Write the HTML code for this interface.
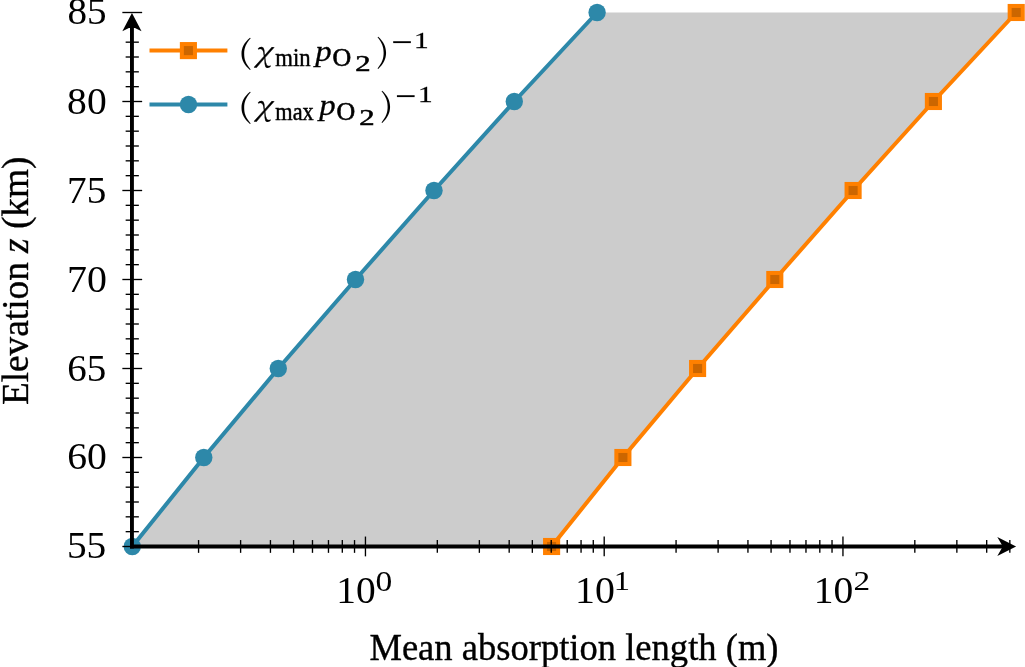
<!DOCTYPE html>
<html><head><meta charset="utf-8"><style>
html,body{margin:0;padding:0;background:#fff;overflow:hidden;}
svg{display:block;}
text{font-family:"Liberation Serif",serif;font-size:100px;fill:#000;}
.i{font-style:italic;}
.nr{font-family:"Noto Serif CJK SC",serif;}
.ni{font-family:"Noto Serif CJK SC",serif;font-style:italic;}
text{stroke:#000;stroke-width:0;}
</style></head><body>
<svg width="1025" height="667" viewBox="0 0 1025 667">
<polygon points="132.30,546.50 203.80,457.50 278.30,368.50 355.50,279.50 434.00,190.50 514.30,101.50 597.10,12.50 1016.20,12.50 933.40,101.50 853.10,190.50 774.80,279.50 697.60,368.50 622.90,457.50 551.60,546.50" fill="#cccccc"/>
<polyline points="551.60,546.50 622.90,457.50 697.60,368.50 774.80,279.50 853.10,190.50 933.40,101.50 1016.20,12.50" fill="none" stroke="#ff8000" stroke-width="4.0" stroke-linejoin="round"/>
<rect x="545.05" y="539.95" width="13.1" height="13.1" fill="#cc6600" stroke="#ff8000" stroke-width="4.0"/>
<rect x="616.35" y="450.95" width="13.1" height="13.1" fill="#cc6600" stroke="#ff8000" stroke-width="4.0"/>
<rect x="691.05" y="361.95" width="13.1" height="13.1" fill="#cc6600" stroke="#ff8000" stroke-width="4.0"/>
<rect x="768.25" y="272.95" width="13.1" height="13.1" fill="#cc6600" stroke="#ff8000" stroke-width="4.0"/>
<rect x="846.55" y="183.95" width="13.1" height="13.1" fill="#cc6600" stroke="#ff8000" stroke-width="4.0"/>
<rect x="926.85" y="94.95" width="13.1" height="13.1" fill="#cc6600" stroke="#ff8000" stroke-width="4.0"/>
<rect x="1009.65" y="5.95" width="13.1" height="13.1" fill="#cc6600" stroke="#ff8000" stroke-width="4.0"/>
<polyline points="132.30,546.50 203.80,457.50 278.30,368.50 355.50,279.50 434.00,190.50 514.30,101.50 597.10,12.50" fill="none" stroke="#2d88a9" stroke-width="4.0" stroke-linejoin="round"/>
<circle cx="132.30" cy="546.50" r="8.7" fill="#2d88a9"/>
<circle cx="203.80" cy="457.50" r="8.7" fill="#2d88a9"/>
<circle cx="278.30" cy="368.50" r="8.7" fill="#2d88a9"/>
<circle cx="355.50" cy="279.50" r="8.7" fill="#2d88a9"/>
<circle cx="434.00" cy="190.50" r="8.7" fill="#2d88a9"/>
<circle cx="514.30" cy="101.50" r="8.7" fill="#2d88a9"/>
<circle cx="597.10" cy="12.50" r="8.7" fill="#2d88a9"/>
<g stroke="#000" stroke-width="1.35"><line x1="122.35" y1="546.50" x2="142.15" y2="546.50"/><line x1="125.65" y1="531.67" x2="138.85" y2="531.67"/><line x1="125.65" y1="516.83" x2="138.85" y2="516.83"/><line x1="125.65" y1="502.00" x2="138.85" y2="502.00"/><line x1="125.65" y1="487.17" x2="138.85" y2="487.17"/><line x1="125.65" y1="472.33" x2="138.85" y2="472.33"/><line x1="122.35" y1="457.50" x2="142.15" y2="457.50"/><line x1="125.65" y1="442.67" x2="138.85" y2="442.67"/><line x1="125.65" y1="427.83" x2="138.85" y2="427.83"/><line x1="125.65" y1="413.00" x2="138.85" y2="413.00"/><line x1="125.65" y1="398.17" x2="138.85" y2="398.17"/><line x1="125.65" y1="383.33" x2="138.85" y2="383.33"/><line x1="122.35" y1="368.50" x2="142.15" y2="368.50"/><line x1="125.65" y1="353.67" x2="138.85" y2="353.67"/><line x1="125.65" y1="338.83" x2="138.85" y2="338.83"/><line x1="125.65" y1="324.00" x2="138.85" y2="324.00"/><line x1="125.65" y1="309.17" x2="138.85" y2="309.17"/><line x1="125.65" y1="294.33" x2="138.85" y2="294.33"/><line x1="122.35" y1="279.50" x2="142.15" y2="279.50"/><line x1="125.65" y1="264.67" x2="138.85" y2="264.67"/><line x1="125.65" y1="249.83" x2="138.85" y2="249.83"/><line x1="125.65" y1="235.00" x2="138.85" y2="235.00"/><line x1="125.65" y1="220.17" x2="138.85" y2="220.17"/><line x1="125.65" y1="205.33" x2="138.85" y2="205.33"/><line x1="122.35" y1="190.50" x2="142.15" y2="190.50"/><line x1="125.65" y1="175.67" x2="138.85" y2="175.67"/><line x1="125.65" y1="160.83" x2="138.85" y2="160.83"/><line x1="125.65" y1="146.00" x2="138.85" y2="146.00"/><line x1="125.65" y1="131.17" x2="138.85" y2="131.17"/><line x1="125.65" y1="116.33" x2="138.85" y2="116.33"/><line x1="122.35" y1="101.50" x2="142.15" y2="101.50"/><line x1="125.65" y1="86.67" x2="138.85" y2="86.67"/><line x1="125.65" y1="71.83" x2="138.85" y2="71.83"/><line x1="125.65" y1="57.00" x2="138.85" y2="57.00"/><line x1="125.65" y1="42.17" x2="138.85" y2="42.17"/><line x1="125.65" y1="27.33" x2="138.85" y2="27.33"/><line x1="122.35" y1="12.50" x2="142.15" y2="12.50"/><line x1="198.57" y1="540.05" x2="198.57" y2="552.85"/><line x1="240.61" y1="540.05" x2="240.61" y2="552.85"/><line x1="270.44" y1="540.05" x2="270.44" y2="552.85"/><line x1="293.58" y1="540.05" x2="293.58" y2="552.85"/><line x1="312.48" y1="540.05" x2="312.48" y2="552.85"/><line x1="328.47" y1="540.05" x2="328.47" y2="552.85"/><line x1="342.31" y1="540.05" x2="342.31" y2="552.85"/><line x1="354.53" y1="540.05" x2="354.53" y2="552.85"/><line x1="365.45" y1="536.55" x2="365.45" y2="556.35"/><line x1="437.32" y1="540.05" x2="437.32" y2="552.85"/><line x1="479.36" y1="540.05" x2="479.36" y2="552.85"/><line x1="509.19" y1="540.05" x2="509.19" y2="552.85"/><line x1="532.33" y1="540.05" x2="532.33" y2="552.85"/><line x1="551.23" y1="540.05" x2="551.23" y2="552.85"/><line x1="567.22" y1="540.05" x2="567.22" y2="552.85"/><line x1="581.06" y1="540.05" x2="581.06" y2="552.85"/><line x1="593.28" y1="540.05" x2="593.28" y2="552.85"/><line x1="604.20" y1="536.55" x2="604.20" y2="556.35"/><line x1="676.07" y1="540.05" x2="676.07" y2="552.85"/><line x1="718.11" y1="540.05" x2="718.11" y2="552.85"/><line x1="747.94" y1="540.05" x2="747.94" y2="552.85"/><line x1="771.08" y1="540.05" x2="771.08" y2="552.85"/><line x1="789.98" y1="540.05" x2="789.98" y2="552.85"/><line x1="805.97" y1="540.05" x2="805.97" y2="552.85"/><line x1="819.81" y1="540.05" x2="819.81" y2="552.85"/><line x1="832.03" y1="540.05" x2="832.03" y2="552.85"/><line x1="842.95" y1="536.55" x2="842.95" y2="556.35"/><line x1="914.82" y1="540.05" x2="914.82" y2="552.85"/><line x1="956.86" y1="540.05" x2="956.86" y2="552.85"/><line x1="986.69" y1="540.05" x2="986.69" y2="552.85"/><line x1="1009.83" y1="540.05" x2="1009.83" y2="552.85"/></g>
<line x1="131.95" y1="548.4000000000001" x2="131.95" y2="24" stroke="#000" stroke-width="3.9"/>
<line x1="130.0" y1="546.45" x2="1004" y2="546.45" stroke="#000" stroke-width="3.9"/>
<polygon points="131.95,12.9 122.35,31.2 131.95,26.4 141.54999999999998,31.2" fill="#000"/>
<polygon points="1016.1,546.45 997.3,536.95 1002.8,546.45 997.3,555.95" fill="#000"/>
<line x1="149.5" y1="50.6" x2="227.4" y2="50.6" stroke="#ff8000" stroke-width="4.0"/>
<rect x="181.85" y="44.05" width="13.1" height="13.1" fill="#cc6600" stroke="#ff8000" stroke-width="4.0"/>
<line x1="149.5" y1="104.5" x2="227.4" y2="104.5" stroke="#2d88a9" stroke-width="4.0"/>
<circle cx="188.5" cy="104.5" r="8.7" fill="#2d88a9"/>
<text class="r" transform="translate(67.53,24.23) scale(0.39130,0.37037)">85</text>
<text class="r" transform="translate(67.12,113.53) scale(0.39565,0.37037)">80</text>
<text class="r" transform="translate(67.05,202.61) scale(0.39218,0.38797)">75</text>
<text class="r" transform="translate(67.01,291.52) scale(0.39888,0.38370)">70</text>
<text class="r" transform="translate(67.24,380.82) scale(0.39016,0.37761)">65</text>
<text class="r" transform="translate(67.21,469.43) scale(0.39672,0.36889)">60</text>
<text class="r" transform="translate(66.94,558.43) scale(0.39333,0.37444)">55</text>
<text class="r" transform="translate(336.25,603.23) scale(0.39425,0.37481)">10</text>
<text class="r" transform="translate(375.46,590.52) scale(0.33571,0.28444)">0</text>
<text class="r" transform="translate(575.01,603.23) scale(0.39885,0.37481)">10</text>
<text class="r" transform="translate(613.87,590.10) scale(0.32571,0.28244)">1</text>
<text class="r" transform="translate(813.84,603.23) scale(0.39540,0.37481)">10</text>
<text class="r" transform="translate(853.40,590.10) scale(0.33250,0.28030)">2</text>
<text class="nr" transform="translate(237.88,62.78) scale(0.37959,0.31262)">(</text>
<text class="ni" style="stroke-width:1.00px" transform="translate(254.16,61.64) scale(0.31496,0.28378)">χ</text>
<text class="r" style="stroke-width:1.91px" transform="translate(275.35,66.30) scale(0.22697,0.24394)">min</text>
<text class="i" style="stroke-width:0.95px" transform="translate(315.37,61.37) scale(0.32830,0.30147)">p</text>
<text class="r" style="stroke-width:2.36px" transform="translate(332.56,66.25) scale(0.25937,0.24925)">O</text>
<text class="r" style="stroke-width:2.21px" transform="translate(355.32,70.80) scale(0.30750,0.23636)">2</text>
<text class="nr" transform="translate(376.55,62.48) scale(0.35102,0.31262)">)</text>
<text class="r" transform="translate(391.20,54.56) scale(0.38065,0.38065)">−</text>
<text class="r" style="stroke-width:1.14px" transform="translate(414.05,48.00) scale(0.29429,0.23359)">1</text>
<text class="nr" transform="translate(237.88,116.78) scale(0.37959,0.31262)">(</text>
<text class="ni" style="stroke-width:1.00px" transform="translate(254.16,115.64) scale(0.31496,0.28378)">χ</text>
<text class="r" style="stroke-width:1.94px" transform="translate(275.35,120.06) scale(0.22308,0.24167)">max</text>
<text class="i" style="stroke-width:0.95px" transform="translate(319.27,115.37) scale(0.32830,0.30147)">p</text>
<text class="r" style="stroke-width:2.36px" transform="translate(336.46,120.25) scale(0.25937,0.24925)">O</text>
<text class="r" style="stroke-width:2.21px" transform="translate(359.22,124.80) scale(0.30750,0.23636)">2</text>
<text class="nr" transform="translate(380.45,116.48) scale(0.35102,0.31262)">)</text>
<text class="r" transform="translate(395.10,108.56) scale(0.38065,0.38065)">−</text>
<text class="r" style="stroke-width:1.14px" transform="translate(417.95,102.00) scale(0.29429,0.23359)">1</text>
<text class="r" style="stroke-width:0.95px" transform="translate(369.40,659.6) scale(0.36574,0.37000)">Mean absorption length (m)</text>
<text class="r" style="stroke-width:0.94px" transform="translate(28.2,405.12) rotate(-90) scale(0.37301,0.37000)">Elevation <tspan class="i">z</tspan> (km)</text>
</svg>
</body></html>
